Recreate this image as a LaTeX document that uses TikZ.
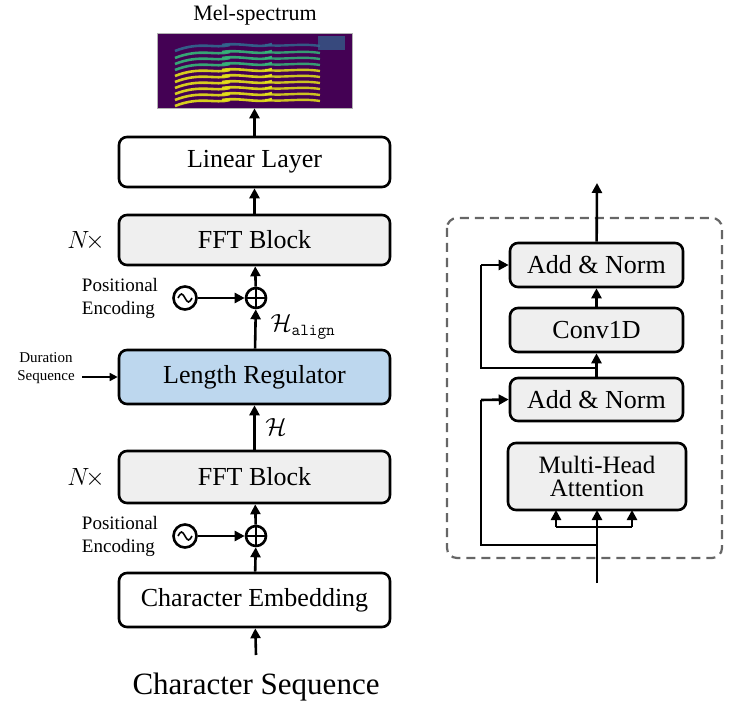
\documentclass[tikz,border=0pt]{standalone}
\usepackage{fontspec}
\setmainfont{Liberation Serif}
\usetikzlibrary{arrows.meta}
\definecolor{boxgray}{HTML}{EFEFEF}
\definecolor{lrblue}{HTML}{BDD7EE}
\definecolor{vpurple}{HTML}{440154}
\definecolor{vblue}{HTML}{31688E}
\definecolor{vteal}{HTML}{35B779}
\definecolor{vyellow}{HTML}{E6E419}
\begin{document}
\begin{tikzpicture}[x=1pt,y=-1pt,
  blk/.style={draw,line width=2.6pt,rounded corners=8pt,inner sep=0pt,font=\fontsize{26}{28}\selectfont},
  arr/.style={line width=2.6pt,-{Triangle[length=10pt,width=10pt]}},
  ln/.style={line width=2.6pt},
  pl/.style={draw,circle,line width=2.6pt,minimum size=20pt,inner sep=0pt,path picture={\draw[line width=2.4pt] (path picture bounding box.north)--(path picture bounding box.south) (path picture bounding box.west)--(path picture bounding box.east);}},
  sn/.style={draw,circle,line width=2.6pt,minimum size=23pt,inner sep=0pt,path picture={\draw[line width=1.6pt] ([xshift=-7pt]path picture bounding box.center) sin ([xshift=-3.5pt,yshift=4pt]path picture bounding box.center) cos (path picture bounding box.center) sin ([xshift=3.5pt,yshift=-4pt]path picture bounding box.center) cos ([xshift=7pt]path picture bounding box.center);}},
  pe/.style={align=left,font=\fontsize{19}{23}\selectfont}
]
\useasboundingbox (0,0) rectangle (741,711);
% mel spectrum
\node[font=\fontsize{22}{24}\selectfont] (mt) at (255,15) {Mel-spectrum};
\begin{scope}
\clip (157,33) rectangle (352,108);
\fill[vpurple] (157,33) rectangle (352,108);
\fill[vblue!70!vpurple] (318,36) rectangle (345,50);
\foreach \y/\c in {45/vblue,52/vteal,58/vteal,64/vteal,70/vyellow,76/vyellow,82/vyellow,88/vyellow,94/vyellow,100/vyellow}{
  \draw[\c,line width=2.6pt,opacity=0.9] (175,\y+6) .. controls (200,\y-4) and (215,\y+4) .. (230,\y);
  \draw[\c,line width=2.6pt,opacity=0.9] (222,\y) .. controls (240,\y-3) and (260,\y+4) .. (272,\y-1);
  \draw[\c,line width=2.4pt,opacity=0.85] (265,\y) .. controls (285,\y+2) and (300,\y-2) .. (320,\y+1);
}
\fill[vpurple] (157,33) rectangle (172,108);
\fill[vpurple] (325,55) rectangle (352,108);
\end{scope}
\node[draw=gray!60,line width=0.6pt,minimum width=195pt,minimum height=75pt] (mel) at (254.5,70.5) {};
% left column
\node[blk,fill=white,minimum width=271pt,minimum height=50pt] (lin) at (254.5,162) {Linear Layer};
\node[blk,fill=boxgray,minimum width=271pt,minimum height=50pt] (fft2) at (254.5,240) {FFT Block};
\node[blk,fill=lrblue,minimum width=271pt,minimum height=54pt] (lr) at (254.5,377) {Length Regulator};
\node[blk,fill=boxgray,minimum width=271pt,minimum height=52pt] (fft1) at (254.5,477) {FFT Block};
\node[blk,fill=white,minimum width=271pt,minimum height=54pt] (emb) at (254.5,600) {Character Embedding};
\node[font=\fontsize{31}{33}\selectfont] (cs) at (256,687) {Character Sequence};
\coordinate (csin) at (256,655);
\node[font=\fontsize{30}{32}\selectfont] (n2) at (86,241) {$N\!\times$};
\node[font=\fontsize{30}{32}\selectfont] (n1) at (86,478) {$N\!\times$};
\node[pl] (p2) at (256,298) {};
\node[pl] (p1) at (256,536) {};
\node[sn] (s2) at (185,298) {};
\node[sn] (s1) at (185,536) {};
\node[pe] (pe2) at (120,298) {Positional\\Encoding};
\node[pe] (pe1) at (120,536) {Positional\\Encoding};
\node[font=\fontsize{24}{26}\selectfont] (ha) at (303,327) {$\mathcal{H}_{\mathtt{align}}$};
\node[font=\fontsize{24}{26}\selectfont] (h) at (276,427) {$\mathcal{H}$};
\node[align=center,font=\fontsize{15}{18}\selectfont] (ds) at (46,368) {Duration\\Sequence};
\coordinate (dsa) at (82,377);
\draw[arr] (csin) -- (emb);
\draw[arr] (emb) -- (p1);
\draw[arr] (p1) -- (fft1);
\draw[arr] (s1) -- (p1);
\draw[arr] (fft1) -- (lr);
\draw[arr] (lr) -- (p2);
\draw[arr] (p2) -- (fft2);
\draw[arr] (s2) -- (p2);
\draw[arr] (fft2) -- (lin);
\draw[arr] (lin) -- (mel);
\draw[line width=1.6pt,-{Triangle[length=8pt,width=8pt]}] (dsa) -- (lr);
% right panel
\draw[gray!80!black,line width=2.2pt,dash pattern=on 9pt off 6pt,rounded corners=10pt] (447,218) rectangle (722,558);
\node[blk,fill=boxgray,minimum width=173pt,minimum height=44pt] (an2) at (596.5,265) {Add \& Norm};
\node[blk,fill=boxgray,minimum width=173pt,minimum height=44pt] (cv) at (596.5,330) {Conv1D};
\node[blk,fill=boxgray,minimum width=173pt,minimum height=43pt] (an1) at (596.5,399.5) {Add \& Norm};
\node[blk,fill=boxgray,minimum width=178pt,minimum height=67pt,align=center,font=\fontsize{25}{23}\selectfont] (mha) at (597,476.5) {Multi-Head\\Attention};
\coordinate (in) at (597,583);
\coordinate (out) at (597,183);
\coordinate (br) at (597,527);
\coordinate (bl) at (556,527);
\coordinate (brr) at (632,527);
\coordinate (r1) at (597,545);
\coordinate (r2) at (597,368);
\draw[ln] (in) -- (br);
\draw[arr] (br) -- (597,510);
\draw[ln] (bl) -- (brr);
\draw[arr] (bl) -- (556,510);
\draw[arr] (brr) -- (632,510);
\draw[ln] (r1) -- (481,545) -- (481,400);
\draw[arr] (481,400) -- (an1.west);
\draw[arr] (an1) -- (cv);
\draw[ln] (r2) -- (481,368) -- (481,265);
\draw[arr] (481,265) -- (an2.west);
\draw[arr] (cv) -- (an2);
\draw[arr] (an2) -- (out);
\end{tikzpicture}
\end{document}
